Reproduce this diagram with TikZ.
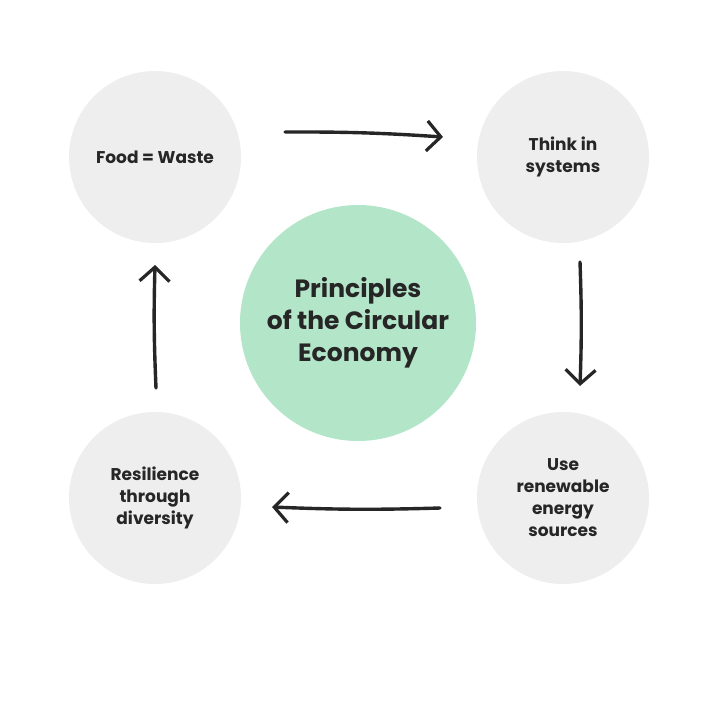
\documentclass[tikz,border=0pt]{standalone}
\usepackage{fontspec}
\setmainfont{Poppins}
\usetikzlibrary{arrows.meta}
\definecolor{circ}{HTML}{EEEEEE}
\definecolor{mint}{HTML}{B3E6C9}
\definecolor{ink}{HTML}{262626}
\tikzset{
  pcirc/.style={circle,fill=circ,minimum size=172pt,inner sep=0pt,align=center,text=ink,font=\bfseries\fontsize{17}{22}\selectfont},
  ccirc/.style={circle,fill=mint,minimum size=236pt,inner sep=0pt,align=center,text=ink,font=\bfseries\fontsize{25}{32}\selectfont},
  flow/.style={draw=ink,line width=3.4pt,line cap=round,-{Straight Barb[length=14pt,width=30pt,line width=3.2pt]}}
}
\begin{document}
\begin{tikzpicture}[x=1pt,y=-1pt]
\useasboundingbox[fill=white] (0,0) rectangle (720,720);
\node[pcirc] (fw) at (155,157) {Food = Waste};
\node[pcirc] (ts) at (563,157) {Think in\\systems};
\node[pcirc] (re) at (563,498) {Use\\renewable\\energy\\sources};
\node[pcirc] (rd) at (155,498) {Resilience\\through\\diversity};
\node[ccirc] (ce) at (358,323) {Principles\\of the Circular\\Economy};
\coordinate (a1) at (285,132); \coordinate (a2) at (443,137);
\coordinate (b1) at (580,262); \coordinate (b2) at (580,386);
\coordinate (c1) at (440,508); \coordinate (c2) at (272,507);
\coordinate (d1) at (156,388); \coordinate (d2) at (155,265);
\draw[flow] (a1) to[bend left=2] (a2);
\draw[flow] (b1) to[bend left=2] (b2);
\draw[flow] (c1) to[bend left=2] (c2);
\draw[flow] (d1) to[bend left=2] (d2);
\end{tikzpicture}
\end{document}
